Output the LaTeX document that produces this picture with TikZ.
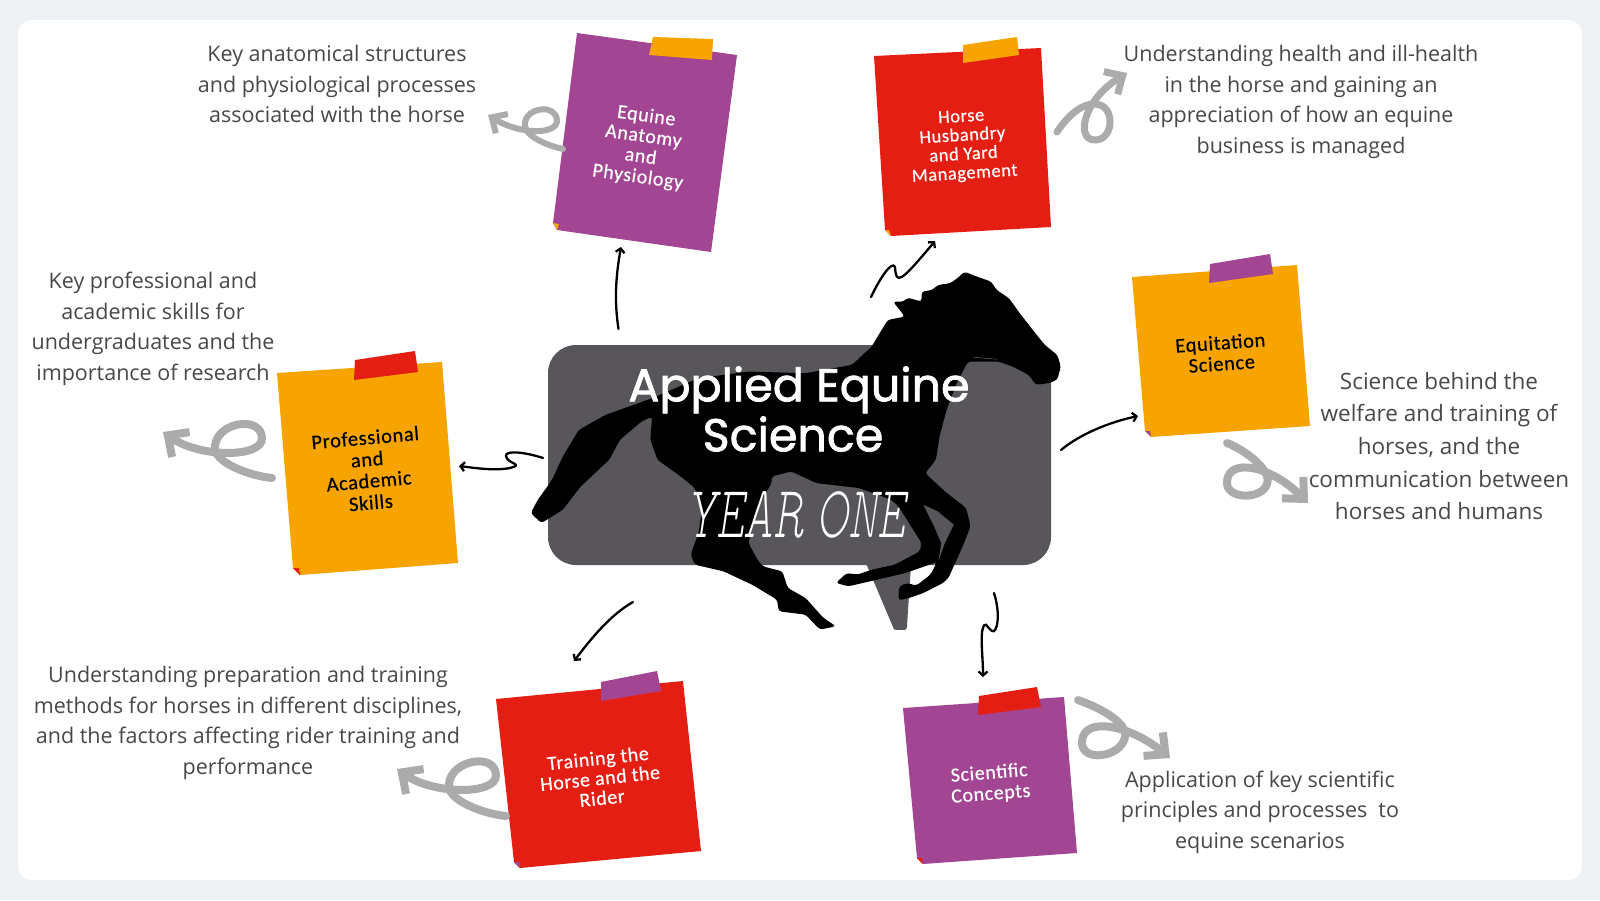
\documentclass[tikz,border=0pt]{standalone}
\usepackage{fontspec}
\setmainfont{Open Sans}
\newfontfamily\notefont[LetterSpace=3,FakeBold=0.4]{Carlito}
\newfontfamily\titlefont[FakeBold=1.6]{Poppins}
\newfontfamily\yearfont[FakeSlant=0.28]{Latin Modern Mono Prop Light}
\usetikzlibrary{arrows.meta}
\definecolor{pagebg}{HTML}{EDF1F4}
\definecolor{boxgray}{HTML}{58565A}
\definecolor{swirlgray}{HTML}{ABABAB}
\definecolor{bodytext}{HTML}{484848}
\definecolor{notepurple}{HTML}{A24592}
\definecolor{notered}{HTML}{E51E14}
\definecolor{noteorange}{HTML}{F7A300}
\tikzset{
	desc/.style={font=\fontsize{21.5}{30.6}\selectfont,align=center,text=bodytext},
	whitenote/.style 2 args={font=\notefont\fontsize{#1}{#2}\selectfont,align=center,text=white},
	blacknote/.style 2 args={font=\notefont\fontsize{#1}{#2}\selectfont,align=center,text=black},
	swirl/.style={draw=swirlgray,line width=#1,line cap=round,-{Straight Barb[length=0pt 2,width=0pt 3.8]}},
	thinarrow/.style={draw=black,line width=2.3pt,line cap=round,-{Straight Barb[length=4pt,width=9pt]}}
}
\begin{document}
\begin{tikzpicture}[x=1pt,y=-1pt]
	\useasboundingbox (0,0) rectangle (1600,900);
	\fill[pagebg] (0,0) rectangle (1600,900);
	\fill[white,rounded corners=14pt] (18,20) rectangle (1582,880);

	\fill[boxgray,rounded corners=28pt] (548,345) rectangle (1051,565);
	\begin{scope}[shift={(520,250)},xscale=0.357,yscale=0.333]
		\fill[boxgray,draw=boxgray,line width=4pt,line join=round] (975,940) -- (1052,1135) -- (1078,1135) -- (1090,940) -- cycle;
		\fill[black,rounded corners=3pt] (1045,155) -- (1075,155) -- (1085,143) -- (1125,155) -- (1125,125) -- (1155,120) -- (1170,105) -- (1205,100) -- (1225,85) -- (1245,65) -- (1280,80) -- (1320,95) -- (1335,120) -- (1370,145) -- (1400,190) -- (1440,245) -- (1470,285) -- (1505,315) -- (1515,350) -- (1505,390) -- (1480,400) -- (1445,405) -- (1425,375) -- (1380,350) -- (1340,335) -- (1255,335) -- (1225,395) -- (1195,480) -- (1175,560) -- (1165,630) -- (1135,670) -- (1190,725) -- (1250,775) -- (1262,830) -- (1240,890) -- (1200,985) -- (1185,1000) -- (1130,1030) -- (1090,1045) -- (1060,1052) -- (1062,1010) -- (1085,1000) -- (1110,1008) -- (1150,975) -- (1168,937) -- (1080,970) -- (1000,990) -- (920,1010) -- (885,1000) -- (915,970) -- (945,975) -- (985,960) -- (1050,945) -- (1120,905) -- (1125,880) -- (1060,770) -- (1040,750) -- (950,715) -- (830,700) -- (760,665) -- (705,680) -- (705,700) -- (660,780) -- (640,880) -- (665,930) -- (680,950) -- (735,965) -- (750,1015) -- (800,1045) -- (850,1105) -- (885,1130) -- (840,1140) -- (800,1095) -- (725,1085) -- (720,1050) -- (650,1005) -- (570,965) -- (490,945) -- (478,915) -- (500,850) -- (510,780) -- (490,715) -- (450,680) -- (385,630) -- (365,570) -- (370,500) -- (340,515) -- (280,570) -- (250,630) -- (170,710) -- (120,780) -- (60,820) -- (30,790) -- (50,750) -- (90,690) -- (120,620) -- (165,540) -- (240,495) -- (370,445) -- (500,385) -- (640,365) -- (800,370) -- (930,345) -- (985,290) -- (1030,210) -- (1078,200) -- cycle;
		\fill[boxgray] (1130,765) -- (1170,785) -- (1215,825) -- (1190,880) -- (1172,935) -- (1180,880) -- (1160,830) -- cycle;
		\draw[boxgray,line width=.6pt] (1270,322) -- (1335,328);
	\end{scope}
	\node[font=\titlefont\fontsize{46}{50}\selectfont,text=white,align=center] (title) at (799,409) {Applied Equine\\Science\hspace*{12pt}};
	\node[text=white,inner sep=0pt] (year) at (796,515) {\resizebox{218pt}{46pt}{\yearfont YEAR ONE}};

	\fill[notepurple] (577,33) -- (737,55) -- (711,252) -- (557,230) -- (553,223) -- cycle;
	\fill[noteorange] (553,223) -- (559,224) -- (557,230) -- cycle;
	\fill[noteorange] (653,37) -- (713,39) -- (712,60) -- (649,55) -- cycle;
	\node[whitenote={20}{20.5},rotate=-8] (anatomy) at (642,147) {Equine\\Anatomy\\and\\Physiology};

	\fill[notered] (874,56) -- (1041,48) -- (1051,227) -- (891,236) -- (885,230) -- cycle;
	\fill[noteorange] (885,230) -- (889,230) -- (891,236) -- cycle;
	\fill[noteorange] (963,45) -- (1017,37) -- (1019,55) -- (963,63) -- cycle;
	\node[whitenote={18.5}{19},rotate=3.5] (husbandry) at (963,146) {Horse\\Husbandry\\and Yard\\Management};

	\fill[noteorange] (277,373) -- (442,362) -- (458,563) -- (300,575) -- (293,568) -- cycle;
	\fill[notered] (293,568) -- (299,568) -- (300,575) -- cycle;
	\fill[notered] (355,360) -- (415,351) -- (418,372) -- (354,380) -- cycle;
	\node[blacknote={20.5}{21.7},rotate=5] (skills) at (368,470) {Professional\\and\\Academic\\Skills};

	\fill[noteorange] (1132,277) -- (1297,265) -- (1310,426) -- (1151,437) -- (1145,431) -- cycle;
	\fill[notepurple] (1145,431) -- (1150,431) -- (1151,437) -- cycle;
	\fill[notepurple] (1210,264) -- (1270,254) -- (1273,274) -- (1209,283) -- cycle;
	\node[blacknote={20.5}{21},rotate=4] (equitation) at (1221,353) {Equitation\\Science};

	\fill[notered] (496,699) -- (683,681) -- (701,851) -- (520,868) -- (514,862) -- cycle;
	\fill[notepurple] (514,862) -- (520,862) -- (520,868) -- cycle;
	\fill[notepurple] (601,682) -- (657,671) -- (661,691) -- (601,701) -- cycle;
	\node[whitenote={20}{20},rotate=6] (training) at (600,778) {Training the\\Horse and the\\Rider};

	\fill[notepurple] (903,708) -- (1064,697) -- (1077,853) -- (923,864) -- (917,858) -- cycle;
	\fill[notered] (917,858) -- (922,858) -- (923,864) -- cycle;
	\fill[notered] (979,696) -- (1037,687) -- (1041,707) -- (978,715) -- cycle;
	\node[whitenote={20}{21},rotate=4.5] (concepts) at (990,784) {Scientific\\Concepts};

	\node[desc] (anatomytext) at (337,84) {Key anatomical structures\\and physiological processes\\associated with the horse};
	\node[desc] (husbandrytext) at (1301,102) {Understanding health and ill-health\\in the horse and gaining an\\appreciation of how an equine\\business is managed};
	\node[desc] (skillstext) at (153,329) {Key professional and\\academic skills for\\undergraduates and the\\importance of research};
	\node[desc,font=\fontsize{22.5}{32.6}\selectfont] (equitationtext) at (1439,446) {Science behind the\\welfare and training of\\horses, and the\\communication between\\horses and humans};
	\node[desc] (trainingtext) at (248,723) {Understanding preparation and training\\methods for horses in different disciplines,\\and the factors affecting rider training and\\performance};
	\node[desc] (conceptstext) at (1260,812) {Application of key scientific\\principles and processes\ \ to\\equine scenarios};

	\coordinate (a1) at (563,149);
	\coordinate (a2) at (488,115);
	\draw[swirl=6pt] (a1) .. controls (545,145) and (522,135) .. (525,122) .. controls (527,108) and (555,103) .. (557,120) .. controls (558,135) and (520,135) .. (a2);
	\coordinate (b1) at (1057,132);
	\coordinate (b2) at (1127,73);
	\draw[swirl=7pt] (b1) .. controls (1068,115) and (1085,100) .. (1100,105) .. controls (1115,110) and (1113,140) .. (1095,140) .. controls (1075,140) and (1083,100) .. (b2);
	\coordinate (c1) at (272,478);
	\coordinate (c2) at (163,432);
	\draw[swirl=8pt] (c1) .. controls (250,476) and (212,462) .. (215,446) .. controls (217,422) and (261,415) .. (262,438) .. controls (263,458) and (200,458) .. (c2);
	\coordinate (d1) at (1227,443);
	\coordinate (d2) at (1308,503);
	\draw[swirl=8pt] (d1) .. controls (1245,450) and (1272,470) .. (1267,484) .. controls (1262,500) and (1225,500) .. (1227,481) .. controls (1229,458) and (1270,465) .. (d2);
	\coordinate (e1) at (506,816);
	\coordinate (e2) at (397,769);
	\draw[swirl=8pt] (e1) .. controls (484,814) and (446,800) .. (449,784) .. controls (451,760) and (495,752) .. (496,775) .. controls (497,795) and (434,795) .. (e2);
	\coordinate (f1) at (1078,700);
	\coordinate (f2) at (1170,758);
	\draw[swirl=8pt] (f1) .. controls (1098,707) and (1128,722) .. (1125,737) .. controls (1121,758) and (1080,763) .. (1082,741) .. controls (1084,716) and (1130,725) .. (f2);

	\coordinate (g1) at (618.5,329);
	\coordinate (g2) at (621,247);
	\draw[thinarrow] (g1) .. controls (614,300) and (616,275) .. (g2);
	\coordinate (h1) at (871,297);
	\coordinate (h2) at (935,241);
	\draw[thinarrow] (h1) .. controls (880,278) and (892,260) .. (895,267) .. controls (896,285) and (900,283) .. (h2);
	\coordinate (i1) at (1061,450);
	\coordinate (i2) at (1138,416);
	\draw[thinarrow] (i1) .. controls (1080,434) and (1110,422) .. (i2);
	\coordinate (j1) at (994,593);
	\coordinate (j2) at (983,677);
	\draw[thinarrow] (j1) .. controls (1001,615) and (997,634) .. (992,631) .. controls (986,627) and (985,618) .. (982,632) .. controls (981,645) and (983,660) .. (j2);
	\coordinate (k1) at (633,602);
	\coordinate (k2) at (574,661);
	\draw[thinarrow] (k1) .. controls (610,615) and (590,640) .. (k2);
	\coordinate (l1) at (543,458);
	\coordinate (l2) at (459,466);
	\draw[thinarrow] (l1) .. controls (525,452) and (505,450) .. (506,456) .. controls (507,464) and (525,464) .. (510,468) .. controls (495,471) and (475,468) .. (l2);
\end{tikzpicture}
\end{document}
